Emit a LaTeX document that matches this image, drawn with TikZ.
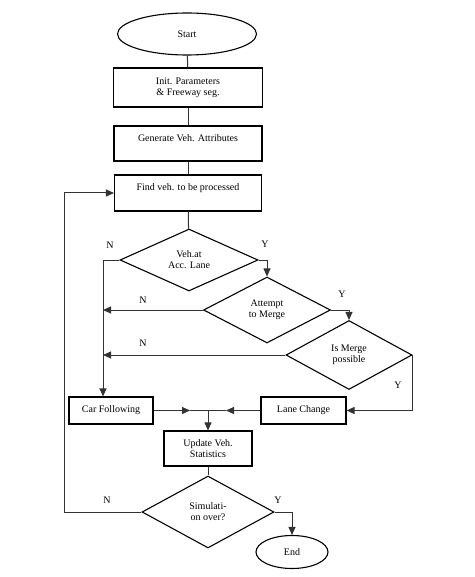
\documentclass[tikz,border=0pt]{standalone}
\usepackage{fontspec}
\setmainfont{Liberation Serif}
\usetikzlibrary{shapes.geometric,arrows.meta}
\begin{document}
\begin{tikzpicture}[x=1pt,y=-1pt,font=\fontsize{10}{11}\selectfont]
\tikzstyle{term}=[ellipse,draw,line width=1.1pt,inner sep=0pt];
\tikzstyle{proc}=[rectangle,draw,line width=1.1pt,align=center,inner sep=0pt];
\tikzstyle{dec}=[diamond,draw,line width=1.1pt,align=center,inner sep=0pt];
\tikzstyle{conn}=[line width=1pt,draw=black!80];
\tikzstyle{flow}=[conn,-{Triangle[length=8pt,width=7pt]}];
\tikzstyle{yn}=[inner sep=0pt];
\useasboundingbox (0,0) rectangle (474,577);

\node [term,minimum width=139pt,minimum height=42pt] (start) at (187,34) {Start};
\node [proc,minimum width=149pt,minimum height=39pt] (init) at (188,87.5) {Init. Parameters\\\& Freeway seg.};
\node [proc,minimum width=148pt,minimum height=35pt] (gen) at (188,143.5) {Generate Veh. Attributes\\~};
\node [proc,minimum width=147pt,minimum height=36pt] (find) at (188,193) {Find veh. to be processed\\~};

\node [dec,minimum width=138pt,minimum height=62pt] (acc) at (189,260) {Veh.at\\Acc. Lane};
\node [dec,minimum width=127pt,minimum height=66pt] (merge) at (267,310) {Attempt\\to Merge};
\node [dec,minimum width=126pt,minimum height=69pt] (poss) at (349,355) {Is Merge\\possible};

\node [proc,minimum width=84pt,minimum height=27pt] (car) at (111,410.5) {Car Following};
\node [proc,minimum width=85pt,minimum height=27pt] (lane) at (303.5,410.5) {Lane Change};
\node [proc,minimum width=88pt,minimum height=35pt] (upd) at (208,448.5) {Update Veh.\\Statistics};

\node [dec,minimum width=132pt,minimum height=72pt] (sim) at (208,512) {Simulati-\\on over?};
\node [term,minimum width=72pt,minimum height=33pt] (end) at (292,552) {End};

\coordinate (nx) at (103,260);
\coordinate (jn) at (208,410.5);
\coordinate (cm) at (190,410.5);
\coordinate (lm) at (226,410.5);
\coordinate (lp) at (64,512);

\node [yn] (n1) at (110,245) {N};
\node [yn] (y1) at (265,244) {Y};
\node [yn] (n2) at (143,300) {N};
\node [yn] (y2) at (342,294) {Y};
\node [yn] (n3) at (143,343) {N};
\node [yn] (y3) at (398,385) {Y};
\node [yn] (n4) at (107,500) {N};
\node [yn] (y4) at (278,500) {Y};

\draw [conn] (start) -- (init);
\draw [conn] (init) -- (gen);
\draw [conn] (gen) -- (find);
\draw [conn] (find) -- (acc);

\draw [flow] (acc.west) -- (nx) -- (nx |- car.north);
\draw [flow] (merge.west) -- (nx |- merge.west);
\draw [flow] (poss.west) -- (nx |- poss.west);
\draw [flow] (acc.east) -| (merge.north);
\draw [flow] (merge.east) -| (poss.north);
\draw [flow] (poss.east) |- (lane.east);

\draw [flow] (car.east) -- (cm);
\draw [conn] (cm) -- (jn);
\draw [flow] (lane.west) -- (lm);
\draw [conn] (lm) -- (jn);
\draw [flow] (jn) -- (upd.north);
\draw [conn] (upd) -- (sim);
\draw [flow] (sim.east) -| (end.north);
\draw [flow] (sim.west) -- (lp) |- (find.west);
\end{tikzpicture}
\end{document}
